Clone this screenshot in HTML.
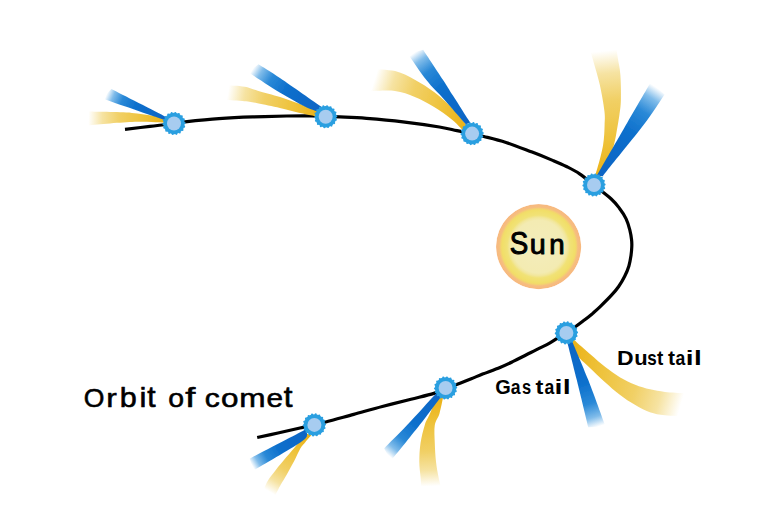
<!DOCTYPE html>
<html><head><meta charset="utf-8"><style>
html,body{margin:0;padding:0;background:#fff;}
body{width:768px;height:530px;position:relative;overflow:hidden;font-family:"Liberation Sans",sans-serif;}
svg{position:absolute;left:0;top:0;}
</style></head><body>
<svg width="768" height="530" viewBox="0 0 768 530">
<defs>
<radialGradient id="sung" cx="0.5" cy="0.5" r="0.5">
<stop offset="0" stop-color="#f3edbc"/><stop offset="0.62" stop-color="#f3ebb2"/><stop offset="0.68" stop-color="#f2e79e"/><stop offset="0.74" stop-color="#f1e276"/>
<stop offset="0.86" stop-color="#f1de68"/><stop offset="0.895" stop-color="#f4cf72"/><stop offset="0.925" stop-color="#f6bd80"/><stop offset="0.985" stop-color="#f7b97f"/><stop offset="1" stop-color="#fbdcc0"/>
</radialGradient>
<filter id="soft" x="-20%" y="-20%" width="140%" height="140%"><feGaussianBlur stdDeviation="0.75"/></filter>
<filter id="soft2" x="-20%" y="-20%" width="140%" height="140%"><feGaussianBlur stdDeviation="0.5"/></filter>
<linearGradient id="g0" gradientUnits="userSpaceOnUse" x1="168.0" y1="120.5" x2="86.0" y2="118.5"><stop offset="0.00" stop-color="#ebb014"/><stop offset="0.30" stop-color="#eec23a"/><stop offset="0.60" stop-color="#f1d066"/><stop offset="0.80" stop-color="#f6e3a2"/><stop offset="0.97" stop-color="#ffffff"/></linearGradient>
<linearGradient id="g1" gradientUnits="userSpaceOnUse" x1="165.5" y1="118.5" x2="106.8" y2="93.7"><stop offset="0.00" stop-color="#0b64c4"/><stop offset="0.50" stop-color="#0c6fcc"/><stop offset="0.74" stop-color="#2a89d7"/><stop offset="0.89" stop-color="#80bcea"/><stop offset="1.00" stop-color="#ffffff"/></linearGradient>
<linearGradient id="g2" gradientUnits="userSpaceOnUse" x1="322.9" y1="109.4" x2="225.0" y2="92.5"><stop offset="0.00" stop-color="#ebb014"/><stop offset="0.30" stop-color="#eec23a"/><stop offset="0.60" stop-color="#f1d066"/><stop offset="0.80" stop-color="#f6e3a2"/><stop offset="0.97" stop-color="#ffffff"/></linearGradient>
<linearGradient id="g3" gradientUnits="userSpaceOnUse" x1="320.5" y1="110.6" x2="253.3" y2="68.1"><stop offset="0.00" stop-color="#0b64c4"/><stop offset="0.50" stop-color="#0c6fcc"/><stop offset="0.74" stop-color="#2a89d7"/><stop offset="0.89" stop-color="#80bcea"/><stop offset="1.00" stop-color="#ffffff"/></linearGradient>
<linearGradient id="g4" gradientUnits="userSpaceOnUse" x1="474.6" y1="113.1" x2="371.0" y2="80.0"><stop offset="0.00" stop-color="#ebb014"/><stop offset="0.30" stop-color="#eec23a"/><stop offset="0.60" stop-color="#f1d066"/><stop offset="0.80" stop-color="#f6e3a2"/><stop offset="0.97" stop-color="#ffffff"/></linearGradient>
<linearGradient id="g5" gradientUnits="userSpaceOnUse" x1="467.7" y1="123.8" x2="415.6" y2="51.8"><stop offset="0.00" stop-color="#0b64c4"/><stop offset="0.50" stop-color="#0c6fcc"/><stop offset="0.74" stop-color="#2a89d7"/><stop offset="0.89" stop-color="#80bcea"/><stop offset="1.00" stop-color="#ffffff"/></linearGradient>
<linearGradient id="g6" gradientUnits="userSpaceOnUse" x1="616.9" y1="179.7" x2="603.0" y2="47.0"><stop offset="0.00" stop-color="#ebb014"/><stop offset="0.30" stop-color="#eec23a"/><stop offset="0.60" stop-color="#f1d066"/><stop offset="0.80" stop-color="#f6e3a2"/><stop offset="0.97" stop-color="#ffffff"/></linearGradient>
<linearGradient id="g7" gradientUnits="userSpaceOnUse" x1="600.0" y1="176.0" x2="657.7" y2="88.3"><stop offset="0.00" stop-color="#0b64c4"/><stop offset="0.50" stop-color="#0c6fcc"/><stop offset="0.74" stop-color="#2a89d7"/><stop offset="0.89" stop-color="#80bcea"/><stop offset="1.00" stop-color="#ffffff"/></linearGradient>
<linearGradient id="g8" gradientUnits="userSpaceOnUse" x1="559.7" y1="368.7" x2="685.0" y2="404.8"><stop offset="0.00" stop-color="#ebb014"/><stop offset="0.30" stop-color="#eec23a"/><stop offset="0.60" stop-color="#f1d066"/><stop offset="0.80" stop-color="#f6e3a2"/><stop offset="0.97" stop-color="#ffffff"/></linearGradient>
<linearGradient id="g9" gradientUnits="userSpaceOnUse" x1="568.5" y1="338.0" x2="597.0" y2="427.0"><stop offset="0.00" stop-color="#0b64c4"/><stop offset="0.50" stop-color="#0c6fcc"/><stop offset="0.74" stop-color="#2a89d7"/><stop offset="0.89" stop-color="#80bcea"/><stop offset="1.00" stop-color="#ffffff"/></linearGradient>
<linearGradient id="g10" gradientUnits="userSpaceOnUse" x1="427.2" y1="395.6" x2="431.5" y2="489.0"><stop offset="0.00" stop-color="#ebb014"/><stop offset="0.30" stop-color="#eec23a"/><stop offset="0.60" stop-color="#f1d066"/><stop offset="0.80" stop-color="#f6e3a2"/><stop offset="0.97" stop-color="#ffffff"/></linearGradient>
<linearGradient id="g11" gradientUnits="userSpaceOnUse" x1="441.2" y1="392.2" x2="387.5" y2="454.7"><stop offset="0.00" stop-color="#0b64c4"/><stop offset="0.50" stop-color="#0c6fcc"/><stop offset="0.74" stop-color="#2a89d7"/><stop offset="0.89" stop-color="#80bcea"/><stop offset="1.00" stop-color="#ffffff"/></linearGradient>
<linearGradient id="g12" gradientUnits="userSpaceOnUse" x1="305.9" y1="432.7" x2="269.0" y2="494.0"><stop offset="0.00" stop-color="#ebb014"/><stop offset="0.30" stop-color="#eec23a"/><stop offset="0.60" stop-color="#f1d066"/><stop offset="0.80" stop-color="#f6e3a2"/><stop offset="0.97" stop-color="#ffffff"/></linearGradient>
<linearGradient id="g13" gradientUnits="userSpaceOnUse" x1="306.5" y1="431.7" x2="251.5" y2="464.6"><stop offset="0.00" stop-color="#0b64c4"/><stop offset="0.50" stop-color="#0c6fcc"/><stop offset="0.74" stop-color="#2a89d7"/><stop offset="0.89" stop-color="#80bcea"/><stop offset="1.00" stop-color="#ffffff"/></linearGradient>
</defs>
<path d="M125.0 129.3 C129.2 128.8 141.8 127.4 150.0 126.4 C158.2 125.4 168.2 124.3 174.0 123.5 C179.8 122.7 177.5 122.6 185.0 121.8 C192.5 121.0 207.6 119.4 218.9 118.6 C230.2 117.8 241.5 117.3 252.8 116.9 C264.1 116.5 276.8 116.2 286.7 116.0 C296.6 115.8 303.1 115.8 312.0 115.9 C320.9 116.1 330.9 116.5 340.0 116.9 C349.1 117.3 356.0 117.5 366.5 118.3 C377.0 119.1 390.8 120.3 402.9 121.8 C415.0 123.2 430.4 125.5 439.4 127.0 C448.4 128.5 449.6 129.0 457.0 130.6 C464.4 132.2 475.7 134.5 483.9 136.5 C492.1 138.5 498.0 139.8 506.0 142.4 C514.0 145.0 524.2 149.1 532.1 152.1 C540.0 155.1 547.5 158.2 553.2 160.6 C558.9 163.0 562.0 164.3 566.4 166.5 C570.8 168.7 575.0 170.7 579.6 173.8 C584.2 176.9 588.8 181.0 594.0 185.2 C599.2 189.4 606.8 195.0 611.0 198.8 C615.2 202.6 616.9 204.9 619.4 208.2 C621.9 211.5 624.3 215.0 626.0 218.6 C627.7 222.2 628.9 226.3 629.8 229.9 C630.7 233.5 631.3 237.2 631.6 240.0 C631.9 242.8 631.9 243.9 631.8 246.5 C631.7 249.1 631.5 252.3 631.0 255.6 C630.5 258.9 629.9 262.6 628.9 266.0 C627.9 269.4 626.4 272.9 624.7 276.3 C623.0 279.8 620.7 283.6 618.5 286.7 C616.3 289.8 614.5 291.9 611.5 295.2 C608.5 298.5 603.3 303.6 600.2 306.6 C597.1 309.6 595.2 311.2 592.7 313.4 C590.2 315.5 587.9 317.4 585.1 319.5 C582.3 321.6 579.2 324.1 576.0 326.3 C572.8 328.5 570.3 329.8 566.0 332.6 C561.7 335.4 554.4 340.3 550.0 342.9 C545.6 345.5 543.5 346.2 539.6 348.2 C535.7 350.2 530.8 352.6 526.4 354.8 C522.0 357.0 517.6 359.3 513.2 361.4 C508.8 363.5 505.1 365.3 500.0 367.4 C494.9 369.5 487.4 372.2 482.6 374.1 C477.8 376.0 475.1 377.2 471.3 378.7 C467.5 380.2 464.3 381.5 460.0 383.2 C455.7 384.9 450.0 387.1 445.6 388.8 C441.2 390.5 439.7 391.6 433.9 393.4 C428.1 395.1 419.6 397.1 411.0 399.3 C402.4 401.5 391.9 404.0 382.3 406.5 C372.8 409.0 363.2 411.8 353.7 414.4 C344.1 417.0 333.9 419.9 325.0 422.2 C316.1 424.5 307.8 426.2 300.0 428.0 C292.2 429.8 285.1 431.4 278.0 433.0 C270.9 434.6 260.7 436.8 257.2 437.5" fill="none" stroke="#000" stroke-width="3.2" stroke-linecap="butt"/>
<path d="M168.1 118.1 C162.1 117.2 145.7 114.0 132.0 112.9 C118.4 111.8 93.7 111.8 86.0 111.6 L86.0 125.4 C93.7 124.8 118.4 122.3 132.0 121.9 C145.7 121.5 162.0 122.7 168.0 122.9 Z" fill="url(#g0)" filter="url(#soft)"/>
<path d="M166.1 116.9 C157.0 112.3 120.5 93.6 111.3 89.0 L102.3 98.5 C112.7 102.1 154.5 116.5 164.9 120.1 Z" fill="url(#g1)" filter="url(#soft)"/>
<path d="M322.1 111.6 C318.5 110.4 307.1 106.5 300.1 104.1 C293.1 101.7 287.2 99.4 280.1 97.1 C273.1 94.9 263.6 92.4 257.7 90.7 C251.8 89.0 250.0 87.7 244.6 86.8 C239.1 85.9 228.3 85.4 225.0 85.1 L225.0 99.9 C228.2 100.1 239.0 100.6 244.5 101.2 C249.9 101.7 251.6 102.1 257.5 103.2 C263.4 104.3 272.8 106.3 279.9 107.9 C287.0 109.5 292.9 111.3 299.9 112.9 C306.9 114.5 318.3 116.6 321.9 117.4 Z" fill="url(#g2)" filter="url(#soft)"/>
<path d="M322.2 107.3 C315.2 102.4 290.9 85.4 280.3 78.2 C269.7 71.0 262.1 66.5 258.5 64.2 L248.1 72.1 C253.4 75.5 270.3 86.8 279.7 92.5 C289.2 98.2 298.1 103.1 304.8 106.4 C311.5 109.7 317.4 111.3 319.9 112.3 Z" fill="url(#g3)" filter="url(#soft)"/>
<path d="M470.3 129.7 C467.4 126.3 459.0 115.2 453.0 108.9 C447.0 102.6 440.4 96.8 434.1 92.0 C427.8 87.2 421.7 83.4 415.2 79.9 C408.7 76.5 402.5 73.0 395.1 71.1 C387.7 69.3 375.0 69.3 371.0 68.9 L371.0 91.0 C375.0 91.0 387.6 89.9 394.9 90.9 C402.3 91.9 408.4 94.2 414.8 96.9 C421.3 99.5 427.4 102.9 433.7 106.7 C440.0 110.6 446.9 115.3 452.4 119.9 C457.9 124.5 464.3 131.9 466.7 134.3 Z" fill="url(#g4)" filter="url(#soft)"/>
<path d="M465.8 124.2 C462.0 119.9 449.5 105.5 443.0 98.2 C436.4 90.9 432.4 87.7 426.6 80.3 C420.7 73.0 411.1 58.3 408.0 53.9 L423.1 49.7 C426.4 54.7 437.9 72.0 442.9 79.7 C447.9 87.4 448.5 88.6 453.1 95.8 C457.6 103.0 467.4 118.3 470.3 122.8 Z" fill="url(#g5)" filter="url(#soft)"/>
<path d="M592.6 181.9 C593.4 179.6 595.7 174.1 597.4 168.0 C599.2 161.8 601.9 152.1 603.1 144.9 C604.3 137.8 604.4 130.6 604.6 125.0 C604.8 119.3 605.2 117.8 604.4 111.0 C603.6 104.3 601.8 93.5 599.8 84.7 C597.8 75.9 594.2 64.6 592.5 58.3 C590.8 52.0 590.1 49.0 589.6 47.1 L616.4 47.0 C616.6 48.8 617.1 53.5 617.8 58.1 C618.5 62.8 619.9 68.0 620.4 75.0 C620.9 81.9 621.1 93.3 620.9 100.0 C620.7 106.7 620.1 110.0 619.4 115.1 C618.7 120.1 617.8 125.1 616.9 130.1 C616.0 135.1 615.4 139.7 613.9 145.1 C612.4 150.6 610.5 156.6 607.8 162.8 C605.0 168.9 599.1 179.0 597.4 182.2 Z" fill="url(#g6)" filter="url(#soft)"/>
<path d="M596.7 175.8 C601.8 167.0 618.0 138.7 627.1 123.0 C636.1 107.4 646.9 89.0 650.9 82.1 L664.6 94.4 C661.0 99.6 652.8 112.7 643.3 125.3 C633.7 138.0 614.0 161.8 607.3 170.3 C600.7 178.7 603.9 175.2 603.2 176.2 Z" fill="url(#g7)" filter="url(#soft)"/>
<path d="M571.3 335.8 C571.8 336.5 571.1 336.9 574.3 340.0 C577.4 343.1 585.1 349.7 590.3 354.2 C595.4 358.7 600.4 363.2 605.3 367.1 C610.3 371.0 615.2 374.5 620.2 377.5 C625.2 380.4 630.3 382.8 635.2 384.7 C640.2 386.7 645.1 388.1 650.1 389.3 C655.1 390.5 659.4 391.3 665.0 391.9 C670.7 392.5 680.9 392.9 684.0 393.1 L686.0 416.4 C682.5 416.2 671.0 415.9 665.0 415.2 C658.9 414.5 654.9 413.9 649.9 412.2 C644.9 410.5 639.9 407.7 634.9 404.8 C629.9 402.0 624.8 398.6 619.8 394.8 C614.7 391.0 609.8 386.5 604.8 382.0 C599.8 377.5 593.9 371.6 589.7 367.7 C585.5 363.7 583.0 362.0 579.7 358.3 C576.4 354.5 572.3 348.7 570.2 345.2 C568.0 341.7 567.2 338.5 566.6 337.2 Z" fill="url(#g8)" filter="url(#soft)"/>
<path d="M566.2 338.1 C568.0 345.1 573.1 365.3 576.8 380.1 C580.5 395.0 586.4 419.3 588.3 427.2 L605.7 426.8 C602.7 418.9 594.0 394.6 588.2 379.8 C582.4 365.0 573.7 344.9 570.8 337.9 Z" fill="url(#g9)" filter="url(#soft)"/>
<path d="M437.6 393.9 C436.4 397.1 432.4 408.0 430.2 413.1 C428.1 418.3 426.4 419.8 424.8 424.9 C423.2 429.9 421.4 437.2 420.5 443.3 C419.6 449.5 419.3 456.3 419.3 461.8 C419.3 467.3 420.1 472.0 420.5 476.5 C420.9 481.1 421.4 487.0 421.6 489.0 L441.4 488.9 C440.9 486.8 439.3 480.9 438.4 476.4 C437.5 471.9 436.6 467.3 436.0 461.8 C435.4 456.3 435.0 449.5 434.8 443.4 C434.6 437.3 434.0 430.1 434.8 425.1 C435.6 420.1 438.1 418.2 439.5 413.4 C440.9 408.6 442.7 399.0 443.4 396.1 Z" fill="url(#g10)" filter="url(#soft)"/>
<path d="M440.8 389.8 C439.8 390.6 440.3 389.1 434.8 394.9 C429.2 400.7 416.0 415.7 407.6 424.6 C399.2 433.5 388.1 444.4 384.2 448.4 L390.8 460.9 C395.6 455.0 410.8 436.3 419.4 425.3 C428.0 414.4 438.4 400.2 442.2 395.2 Z" fill="url(#g11)" filter="url(#soft)"/>
<path d="M305.7 433.3 C304.8 434.3 302.2 437.8 300.7 439.8 C299.2 441.7 299.0 442.0 296.6 444.9 C294.2 447.9 289.7 453.2 286.2 457.3 C282.7 461.5 278.9 465.9 275.8 469.9 C272.7 473.8 269.6 477.5 267.5 481.3 C265.3 485.1 263.4 490.9 262.6 492.8 L275.4 495.2 C276.2 493.5 278.7 488.3 280.7 484.8 C282.6 481.3 284.6 478.4 286.8 474.4 C289.1 470.4 291.9 465.3 294.2 461.0 C296.4 456.7 298.5 451.6 300.3 448.5 C302.2 445.4 303.5 444.5 305.3 442.3 C307.1 440.0 310.3 436.4 311.3 435.3 Z" fill="url(#g12)" filter="url(#soft)"/>
<path d="M305.9 429.2 C302.6 431.0 295.6 434.7 286.3 439.6 C276.9 444.5 255.8 455.5 249.7 458.7 L253.4 470.6 C261.2 465.9 291.3 448.6 300.3 442.5 C309.3 436.4 306.1 435.6 307.2 434.2 Z" fill="url(#g13)" filter="url(#soft)"/>
<g filter="url(#soft2)">
<circle cx="174.0" cy="123.5" r="10.7" fill="#2a9fe0"/>
<circle cx="184.13" cy="126.63" r="1.05" fill="#2a9fe0"/>
<circle cx="182.44" cy="129.91" r="1.05" fill="#2a9fe0"/>
<circle cx="179.74" cy="132.41" r="1.05" fill="#2a9fe0"/>
<circle cx="176.35" cy="133.84" r="1.05" fill="#2a9fe0"/>
<circle cx="172.67" cy="134.02" r="1.05" fill="#2a9fe0"/>
<circle cx="169.16" cy="132.93" r="1.05" fill="#2a9fe0"/>
<circle cx="166.22" cy="130.70" r="1.05" fill="#2a9fe0"/>
<circle cx="164.23" cy="127.61" r="1.05" fill="#2a9fe0"/>
<circle cx="163.41" cy="124.02" r="1.05" fill="#2a9fe0"/>
<circle cx="163.87" cy="120.37" r="1.05" fill="#2a9fe0"/>
<circle cx="165.56" cy="117.09" r="1.05" fill="#2a9fe0"/>
<circle cx="168.26" cy="114.59" r="1.05" fill="#2a9fe0"/>
<circle cx="171.65" cy="113.16" r="1.05" fill="#2a9fe0"/>
<circle cx="175.33" cy="112.98" r="1.05" fill="#2a9fe0"/>
<circle cx="178.84" cy="114.07" r="1.05" fill="#2a9fe0"/>
<circle cx="181.78" cy="116.30" r="1.05" fill="#2a9fe0"/>
<circle cx="183.77" cy="119.39" r="1.05" fill="#2a9fe0"/>
<circle cx="184.59" cy="122.98" r="1.05" fill="#2a9fe0"/>
<circle cx="174.0" cy="123.5" r="7" fill="#a7ccf0"/>
</g>
<g filter="url(#soft2)">
<circle cx="325.7" cy="116.7" r="10.7" fill="#2a9fe0"/>
<circle cx="335.83" cy="119.83" r="1.05" fill="#2a9fe0"/>
<circle cx="334.14" cy="123.11" r="1.05" fill="#2a9fe0"/>
<circle cx="331.44" cy="125.61" r="1.05" fill="#2a9fe0"/>
<circle cx="328.05" cy="127.04" r="1.05" fill="#2a9fe0"/>
<circle cx="324.37" cy="127.22" r="1.05" fill="#2a9fe0"/>
<circle cx="320.86" cy="126.13" r="1.05" fill="#2a9fe0"/>
<circle cx="317.92" cy="123.90" r="1.05" fill="#2a9fe0"/>
<circle cx="315.93" cy="120.81" r="1.05" fill="#2a9fe0"/>
<circle cx="315.11" cy="117.22" r="1.05" fill="#2a9fe0"/>
<circle cx="315.57" cy="113.57" r="1.05" fill="#2a9fe0"/>
<circle cx="317.26" cy="110.29" r="1.05" fill="#2a9fe0"/>
<circle cx="319.96" cy="107.79" r="1.05" fill="#2a9fe0"/>
<circle cx="323.35" cy="106.36" r="1.05" fill="#2a9fe0"/>
<circle cx="327.03" cy="106.18" r="1.05" fill="#2a9fe0"/>
<circle cx="330.54" cy="107.27" r="1.05" fill="#2a9fe0"/>
<circle cx="333.48" cy="109.50" r="1.05" fill="#2a9fe0"/>
<circle cx="335.47" cy="112.59" r="1.05" fill="#2a9fe0"/>
<circle cx="336.29" cy="116.18" r="1.05" fill="#2a9fe0"/>
<circle cx="325.7" cy="116.7" r="7" fill="#a7ccf0"/>
</g>
<g filter="url(#soft2)">
<circle cx="472.1" cy="133.6" r="10.7" fill="#2a9fe0"/>
<circle cx="482.23" cy="136.73" r="1.05" fill="#2a9fe0"/>
<circle cx="480.54" cy="140.01" r="1.05" fill="#2a9fe0"/>
<circle cx="477.84" cy="142.51" r="1.05" fill="#2a9fe0"/>
<circle cx="474.45" cy="143.94" r="1.05" fill="#2a9fe0"/>
<circle cx="470.77" cy="144.12" r="1.05" fill="#2a9fe0"/>
<circle cx="467.26" cy="143.03" r="1.05" fill="#2a9fe0"/>
<circle cx="464.32" cy="140.80" r="1.05" fill="#2a9fe0"/>
<circle cx="462.33" cy="137.71" r="1.05" fill="#2a9fe0"/>
<circle cx="461.51" cy="134.12" r="1.05" fill="#2a9fe0"/>
<circle cx="461.97" cy="130.47" r="1.05" fill="#2a9fe0"/>
<circle cx="463.66" cy="127.19" r="1.05" fill="#2a9fe0"/>
<circle cx="466.36" cy="124.69" r="1.05" fill="#2a9fe0"/>
<circle cx="469.75" cy="123.26" r="1.05" fill="#2a9fe0"/>
<circle cx="473.43" cy="123.08" r="1.05" fill="#2a9fe0"/>
<circle cx="476.94" cy="124.17" r="1.05" fill="#2a9fe0"/>
<circle cx="479.88" cy="126.40" r="1.05" fill="#2a9fe0"/>
<circle cx="481.87" cy="129.49" r="1.05" fill="#2a9fe0"/>
<circle cx="482.69" cy="133.08" r="1.05" fill="#2a9fe0"/>
<circle cx="472.1" cy="133.6" r="7" fill="#a7ccf0"/>
</g>
<g filter="url(#soft2)">
<circle cx="594.0" cy="185.0" r="10.7" fill="#2a9fe0"/>
<circle cx="604.13" cy="188.13" r="1.05" fill="#2a9fe0"/>
<circle cx="602.44" cy="191.41" r="1.05" fill="#2a9fe0"/>
<circle cx="599.74" cy="193.91" r="1.05" fill="#2a9fe0"/>
<circle cx="596.35" cy="195.34" r="1.05" fill="#2a9fe0"/>
<circle cx="592.67" cy="195.52" r="1.05" fill="#2a9fe0"/>
<circle cx="589.16" cy="194.43" r="1.05" fill="#2a9fe0"/>
<circle cx="586.22" cy="192.20" r="1.05" fill="#2a9fe0"/>
<circle cx="584.23" cy="189.11" r="1.05" fill="#2a9fe0"/>
<circle cx="583.41" cy="185.52" r="1.05" fill="#2a9fe0"/>
<circle cx="583.87" cy="181.87" r="1.05" fill="#2a9fe0"/>
<circle cx="585.56" cy="178.59" r="1.05" fill="#2a9fe0"/>
<circle cx="588.26" cy="176.09" r="1.05" fill="#2a9fe0"/>
<circle cx="591.65" cy="174.66" r="1.05" fill="#2a9fe0"/>
<circle cx="595.33" cy="174.48" r="1.05" fill="#2a9fe0"/>
<circle cx="598.84" cy="175.57" r="1.05" fill="#2a9fe0"/>
<circle cx="601.78" cy="177.80" r="1.05" fill="#2a9fe0"/>
<circle cx="603.77" cy="180.89" r="1.05" fill="#2a9fe0"/>
<circle cx="604.59" cy="184.48" r="1.05" fill="#2a9fe0"/>
<circle cx="594.0" cy="185.0" r="7" fill="#a7ccf0"/>
</g>
<g filter="url(#soft2)">
<circle cx="566.4" cy="332.9" r="10.7" fill="#2a9fe0"/>
<circle cx="576.53" cy="336.03" r="1.05" fill="#2a9fe0"/>
<circle cx="574.84" cy="339.31" r="1.05" fill="#2a9fe0"/>
<circle cx="572.14" cy="341.81" r="1.05" fill="#2a9fe0"/>
<circle cx="568.75" cy="343.24" r="1.05" fill="#2a9fe0"/>
<circle cx="565.07" cy="343.42" r="1.05" fill="#2a9fe0"/>
<circle cx="561.56" cy="342.33" r="1.05" fill="#2a9fe0"/>
<circle cx="558.62" cy="340.10" r="1.05" fill="#2a9fe0"/>
<circle cx="556.63" cy="337.01" r="1.05" fill="#2a9fe0"/>
<circle cx="555.81" cy="333.42" r="1.05" fill="#2a9fe0"/>
<circle cx="556.27" cy="329.77" r="1.05" fill="#2a9fe0"/>
<circle cx="557.96" cy="326.49" r="1.05" fill="#2a9fe0"/>
<circle cx="560.66" cy="323.99" r="1.05" fill="#2a9fe0"/>
<circle cx="564.05" cy="322.56" r="1.05" fill="#2a9fe0"/>
<circle cx="567.73" cy="322.38" r="1.05" fill="#2a9fe0"/>
<circle cx="571.24" cy="323.47" r="1.05" fill="#2a9fe0"/>
<circle cx="574.18" cy="325.70" r="1.05" fill="#2a9fe0"/>
<circle cx="576.17" cy="328.79" r="1.05" fill="#2a9fe0"/>
<circle cx="576.99" cy="332.38" r="1.05" fill="#2a9fe0"/>
<circle cx="566.4" cy="332.9" r="7" fill="#a7ccf0"/>
</g>
<g filter="url(#soft2)">
<circle cx="445.6" cy="388.0" r="10.7" fill="#2a9fe0"/>
<circle cx="455.73" cy="391.13" r="1.05" fill="#2a9fe0"/>
<circle cx="454.04" cy="394.41" r="1.05" fill="#2a9fe0"/>
<circle cx="451.34" cy="396.91" r="1.05" fill="#2a9fe0"/>
<circle cx="447.95" cy="398.34" r="1.05" fill="#2a9fe0"/>
<circle cx="444.27" cy="398.52" r="1.05" fill="#2a9fe0"/>
<circle cx="440.76" cy="397.43" r="1.05" fill="#2a9fe0"/>
<circle cx="437.82" cy="395.20" r="1.05" fill="#2a9fe0"/>
<circle cx="435.83" cy="392.11" r="1.05" fill="#2a9fe0"/>
<circle cx="435.01" cy="388.52" r="1.05" fill="#2a9fe0"/>
<circle cx="435.47" cy="384.87" r="1.05" fill="#2a9fe0"/>
<circle cx="437.16" cy="381.59" r="1.05" fill="#2a9fe0"/>
<circle cx="439.86" cy="379.09" r="1.05" fill="#2a9fe0"/>
<circle cx="443.25" cy="377.66" r="1.05" fill="#2a9fe0"/>
<circle cx="446.93" cy="377.48" r="1.05" fill="#2a9fe0"/>
<circle cx="450.44" cy="378.57" r="1.05" fill="#2a9fe0"/>
<circle cx="453.38" cy="380.80" r="1.05" fill="#2a9fe0"/>
<circle cx="455.37" cy="383.89" r="1.05" fill="#2a9fe0"/>
<circle cx="456.19" cy="387.48" r="1.05" fill="#2a9fe0"/>
<circle cx="445.6" cy="388.0" r="7" fill="#a7ccf0"/>
</g>
<g filter="url(#soft2)">
<circle cx="314.4" cy="424.9" r="10.7" fill="#2a9fe0"/>
<circle cx="324.53" cy="428.03" r="1.05" fill="#2a9fe0"/>
<circle cx="322.84" cy="431.31" r="1.05" fill="#2a9fe0"/>
<circle cx="320.14" cy="433.81" r="1.05" fill="#2a9fe0"/>
<circle cx="316.75" cy="435.24" r="1.05" fill="#2a9fe0"/>
<circle cx="313.07" cy="435.42" r="1.05" fill="#2a9fe0"/>
<circle cx="309.56" cy="434.33" r="1.05" fill="#2a9fe0"/>
<circle cx="306.62" cy="432.10" r="1.05" fill="#2a9fe0"/>
<circle cx="304.63" cy="429.01" r="1.05" fill="#2a9fe0"/>
<circle cx="303.81" cy="425.42" r="1.05" fill="#2a9fe0"/>
<circle cx="304.27" cy="421.77" r="1.05" fill="#2a9fe0"/>
<circle cx="305.96" cy="418.49" r="1.05" fill="#2a9fe0"/>
<circle cx="308.66" cy="415.99" r="1.05" fill="#2a9fe0"/>
<circle cx="312.05" cy="414.56" r="1.05" fill="#2a9fe0"/>
<circle cx="315.73" cy="414.38" r="1.05" fill="#2a9fe0"/>
<circle cx="319.24" cy="415.47" r="1.05" fill="#2a9fe0"/>
<circle cx="322.18" cy="417.70" r="1.05" fill="#2a9fe0"/>
<circle cx="324.17" cy="420.79" r="1.05" fill="#2a9fe0"/>
<circle cx="324.99" cy="424.38" r="1.05" fill="#2a9fe0"/>
<circle cx="314.4" cy="424.9" r="7" fill="#a7ccf0"/>
</g>

<circle cx="538.6" cy="246.6" r="42.6" fill="url(#sung)" filter="url(#soft2)"/>

<g font-family="Liberation Sans, sans-serif">
<text transform="translate(83.72 407.10) scale(1.022 0.988)" font-size="26.0" font-weight="normal" fill="#000" stroke="#000" stroke-width="0.55" stroke-linejoin="round">O</text>
<text transform="translate(106.13 407.10) scale(1.220 0.967)" font-size="26.0" font-weight="normal" fill="#000" stroke="#000" stroke-width="0.55" stroke-linejoin="round">r</text>
<text transform="translate(119.85 407.10) scale(1.176 1.036)" font-size="26.0" font-weight="normal" fill="#000" stroke="#000" stroke-width="0.55" stroke-linejoin="round">b</text>
<text transform="translate(139.44 407.10) scale(1.199 1.041)" font-size="26.0" font-weight="normal" fill="#000" stroke="#000" stroke-width="0.55" stroke-linejoin="round">i</text>
<text transform="translate(147.36 407.10) scale(1.154 1.141)" font-size="26.0" font-weight="normal" fill="#000" stroke="#000" stroke-width="0.55" stroke-linejoin="round">t</text>
<text transform="translate(168.31 407.10) scale(1.092 0.988)" font-size="26.0" font-weight="normal" fill="#000" stroke="#000" stroke-width="0.55" stroke-linejoin="round">o</text>
<text transform="translate(185.37 407.10) scale(1.400 1.042)" font-size="26.0" font-weight="normal" fill="#000" stroke="#000" stroke-width="0.55" stroke-linejoin="round">f</text>
<text transform="translate(204.64 407.10) scale(1.156 0.988)" font-size="26.0" font-weight="normal" fill="#000" stroke="#000" stroke-width="0.55" stroke-linejoin="round">c</text>
<text transform="translate(221.01 407.10) scale(1.208 0.988)" font-size="26.0" font-weight="normal" fill="#000" stroke="#000" stroke-width="0.55" stroke-linejoin="round">o</text>
<text transform="translate(239.34 407.10) scale(1.215 0.988)" font-size="26.0" font-weight="normal" fill="#000" stroke="#000" stroke-width="0.55" stroke-linejoin="round">m</text>
<text transform="translate(266.55 407.10) scale(1.145 0.988)" font-size="26.0" font-weight="normal" fill="#000" stroke="#000" stroke-width="0.55" stroke-linejoin="round">e</text>
<text transform="translate(283.86 407.10) scale(1.210 1.141)" font-size="26.0" font-weight="normal" fill="#000" stroke="#000" stroke-width="0.55" stroke-linejoin="round">t</text>
<text transform="translate(509.72 254.40) scale(0.955 1.060)" font-size="29.0" font-weight="normal" fill="#000" stroke="#000" stroke-width="1.00" stroke-linejoin="round">S</text>
<text transform="translate(529.83 254.40) scale(0.991 0.948)" font-size="29.0" font-weight="normal" fill="#000" stroke="#000" stroke-width="1.00" stroke-linejoin="round">u</text>
<text transform="translate(549.34 254.40) scale(0.954 0.931)" font-size="29.0" font-weight="normal" fill="#000" stroke="#000" stroke-width="1.00" stroke-linejoin="round">n</text>
<text transform="translate(495.28 393.70) scale(0.976 1.000)" font-size="20.5" font-weight="bold" fill="#000">G</text>
<text transform="translate(510.68 393.70) scale(0.860 1.000)" font-size="20.5" font-weight="bold" fill="#000">a</text>
<text transform="translate(522.02 393.70) scale(0.803 1.000)" font-size="20.5" font-weight="bold" fill="#000">s</text>
<text transform="translate(535.41 393.70) scale(1.154 1.000)" font-size="20.5" font-weight="bold" fill="#000">t</text>
<text transform="translate(544.48 393.70) scale(0.860 1.000)" font-size="20.5" font-weight="bold" fill="#000">a</text>
<text transform="translate(554.50 393.70) scale(1.400 1.000)" font-size="20.5" font-weight="bold" fill="#000">i</text>
<text transform="translate(562.80 393.70) scale(1.400 1.000)" font-size="20.5" font-weight="bold" fill="#000">l</text>
<text transform="translate(616.96 365.20) scale(1.150 1.000)" font-size="20.0" font-weight="bold" fill="#000">D</text>
<text transform="translate(634.14 365.20) scale(1.098 1.000)" font-size="20.0" font-weight="bold" fill="#000">u</text>
<text transform="translate(647.20 365.20) scale(0.854 1.000)" font-size="20.0" font-weight="bold" fill="#000">s</text>
<text transform="translate(656.97 365.20) scale(0.940 1.000)" font-size="20.0" font-weight="bold" fill="#000">t</text>
<text transform="translate(668.04 365.20) scale(1.053 1.000)" font-size="20.0" font-weight="bold" fill="#000">t</text>
<text transform="translate(675.38 365.20) scale(0.881 1.000)" font-size="20.0" font-weight="bold" fill="#000">a</text>
<text transform="translate(685.74 365.20) scale(1.400 1.000)" font-size="20.0" font-weight="bold" fill="#000">i</text>
<text transform="translate(693.94 365.20) scale(1.400 1.000)" font-size="20.0" font-weight="bold" fill="#000">l</text>
</g>
</svg>
</body></html>
